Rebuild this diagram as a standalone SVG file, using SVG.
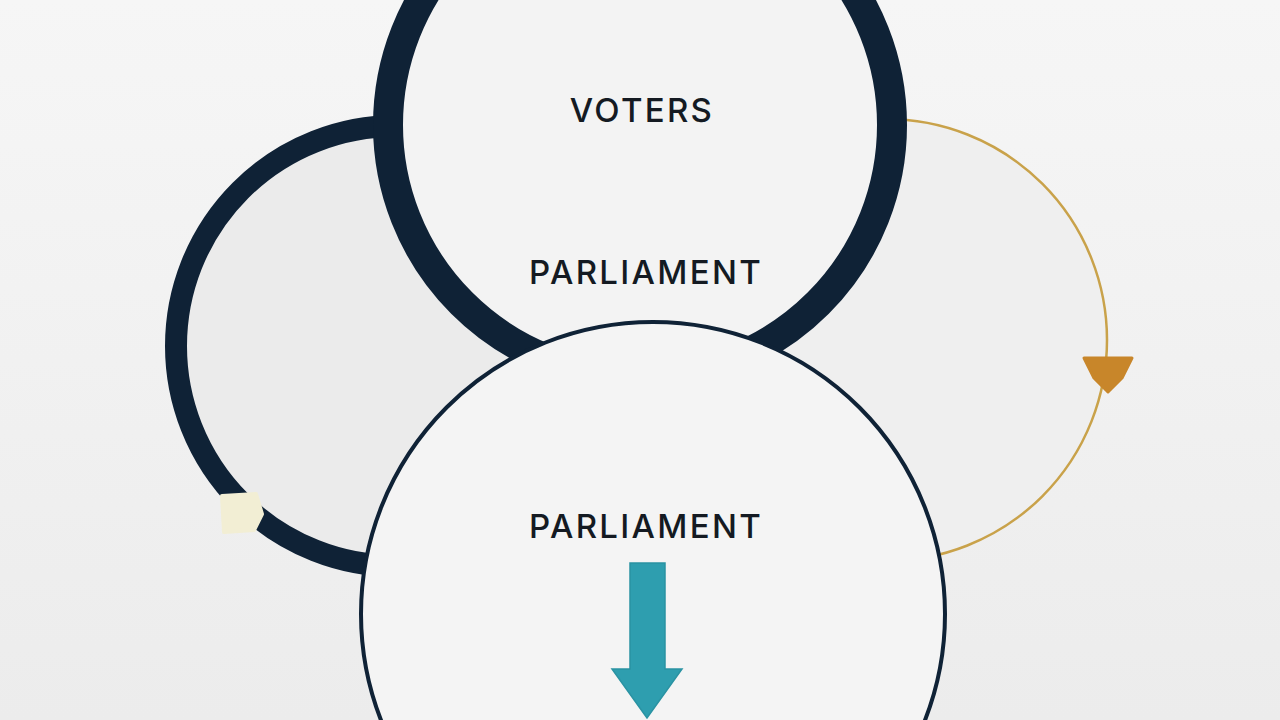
<svg xmlns="http://www.w3.org/2000/svg" width="1280" height="720" viewBox="0 0 1280 720">
<defs>
<linearGradient id="bg" x1="0" y1="0" x2="0" y2="1"><stop offset="0" stop-color="#f6f6f6"/><stop offset="1" stop-color="#ececec"/></linearGradient>
<style>
.lbl{font-family:Inter,"Liberation Sans",sans-serif;font-weight:500;font-size:33px;fill:#141a22;text-anchor:middle;letter-spacing:2.3px}
.navy{stroke:#0f2236}
</style>
</defs>
<rect width="1280" height="720" fill="url(#bg)"/>
<g id="node-left">
<circle cx="396" cy="346" r="220" fill="#ebebeb" class="navy" stroke-width="22"/>
</g>
<g id="node-right">
<circle cx="886" cy="340" r="221" fill="#efefef" stroke="#c9a24a" stroke-width="2.5"/>
</g>
<g id="node-voters">
<circle cx="640" cy="125" r="252" fill="#f3f3f3" class="navy" stroke-width="30"/>
<text class="lbl" x="642" y="122">VOTERS</text>
<text class="lbl" x="646" y="284">PARLIAMENT</text>
</g>
<g id="node-parliament">
<circle cx="653" cy="614" r="292" fill="#f4f4f4" class="navy" stroke-width="4"/>
<text class="lbl" x="646" y="538">PARLIAMENT</text>
</g>
<g id="connectors">
<path d="M1084 358 L1132 358 L1122 378 L1108 392 L1094 378 Z" fill="#c8862a" stroke="#c8862a" stroke-width="3" stroke-linejoin="round"/>
<path d="M222 496 L256 494 L262 514 L254 530 L224 532 Z" fill="#f2eed4" stroke="#f2eed4" stroke-width="4" stroke-linejoin="round"/>
<path d="M630 563 L665 563 L665 669 L682 669 L647 718 L612 669 L630 669 Z" fill="#2e9eaf" stroke="#2a93a3" stroke-width="1.5"/>
</g>
</svg>
